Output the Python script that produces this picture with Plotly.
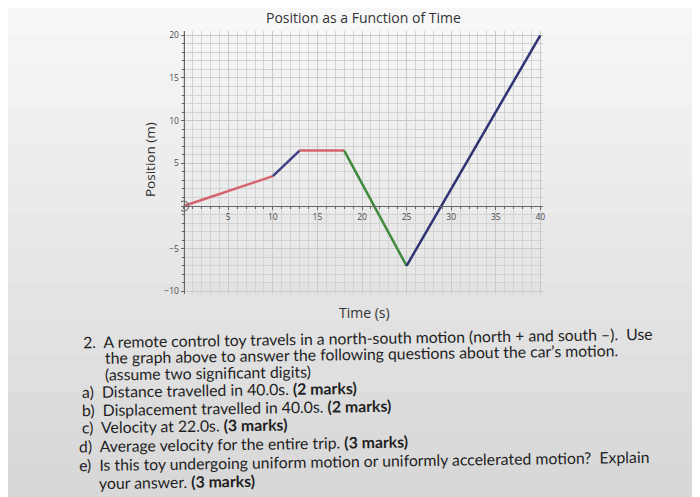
import plotly.graph_objects as go

# ---- data ----
times = [0, 10, 13, 18, 25, 40]
positions = [0, 3.5, 6.5, 6.5, -7, 20]
segment_colors = ["#d4636f", "#3d4284", "#d4636f", "#3f8a3c", "#2f3373"]
x_tick_vals = [5, 10, 15, 20, 25, 30, 35, 40]
y_tick_vals = [-10, -5, 5, 10, 15, 20]

title_text = "Position as a Function of Time"
x_title = "Time (s)"
y_title = "Position (m)"
question_lines = [
    "2.  A remote control toy travels in a north-south motion (north + and south \u2013).  Use",
    "the graph above to answer the following questions about the car\u2019s motion.",
    "(assume two significant digits)",
    "a)  Distance travelled in 40.0s. <b>(2 marks)</b>",
    "b)  Displacement travelled in 40.0s. <b>(2 marks)</b>",
    "c)  Velocity at 22.0s. <b>(3 marks)</b>",
    "d)  Average velocity for the entire trip. <b>(3 marks)</b>",
    "e)  Is this toy undergoing uniform motion or uniformly accelerated motion?  Explain",
    "your answer. <b>(3 marks)</b>",
]

W, H = 700, 497
OFF = 8  # page body offset
ml, mr, mt, mb = 181 - OFF, 157 + OFF, 31 - OFF, 203 + OFF
xr = [-0.3, 40.3]
yr = [-10.3, 20.5]

fig = go.Figure()
for i in range(len(times) - 1):
    fig.add_trace(go.Scatter(
        x=times[i:i + 2], y=positions[i:i + 2], mode="lines",
        line=dict(color=segment_colors[i], width=2.5), showlegend=False,
        hoverinfo="skip"))
fig.add_trace(go.Scatter(
    x=[times[0]], y=[positions[0]], mode="markers",
    marker=dict(symbol="circle-open", size=10, color="#777777",
                line=dict(width=1.3)), showlegend=False))

axis_font = dict(family="Open Sans, sans-serif", size=8.5, color="#4a4a4a")
common = dict(tickfont=axis_font, showgrid=True, gridcolor="#c9c9c9", gridwidth=1,
              zeroline=False, showline=True, linecolor="#666666",
              linewidth=1.2, ticks="outside", ticklen=3, tickcolor="#666666",
              automargin=False,
              minor=dict(dtick=1, showgrid=True, gridcolor="#d2d2d2",
                         ticks="outside", ticklen=2, tickcolor="#666666"))
fig.update_layout(
    width=W, height=H,
    margin=dict(l=ml, r=mr, t=mt, b=mb, autoexpand=False),
    paper_bgcolor="#ebebeb", plot_bgcolor="#f3f3f3",
    xaxis=dict(range=xr, tickvals=x_tick_vals, anchor="free",
               position=(0 - yr[0]) / (yr[1] - yr[0]), **common),
    yaxis=dict(range=yr, tickvals=y_tick_vals, anchor="free",
               position=(0 - xr[0]) / (xr[1] - xr[0]), **common),
)

def px_x(p):
    return (p - OFF - ml) / (W - ml - mr)

def px_y(p):
    return (H - mb - (p - OFF)) / (H - mt - mb)

# gentle photographic shading (lighter at top, darker at bottom)
n = 14
for k in range(n):
    g = int(247 - k * (247 - 216) / (n - 1))
    y_top = px_y(k * H / n) if k else 3
    y_bot = px_y((k + 1) * H / n) if k < n - 1 else -3
    fig.add_shape(type="rect", xref="paper", yref="paper",
                  x0=-2, x1=3, y0=y_bot, y1=y_top,
                  fillcolor=f"rgb({g},{g},{g})", line=dict(width=0), layer="below")

fig.add_annotation(text=title_text, xref="paper", yref="paper",
                   x=px_x(363), y=px_y(18), showarrow=False,
                   xanchor="center", yanchor="middle",
                   font=dict(family="Open Sans, sans-serif", size=14, color="#333333"))
fig.add_annotation(text=y_title, xref="paper", yref="paper",
                   x=px_x(150), y=px_y(160), showarrow=False, textangle=-90,
                   xanchor="center", yanchor="middle",
                   font=dict(family="Open Sans, sans-serif", size=13.5, color="#2e2e2e"))
fig.add_annotation(text=x_title, xref="paper", yref="paper",
                   x=px_x(364), y=px_y(312), showarrow=False,
                   xanchor="center", yanchor="middle",
                   font=dict(family="Open Sans, sans-serif", size=14, color="#333333"))

line_y = [337, 353.5, 372.5, 389.5, 407, 426, 443.5, 460.5, 481]
line_x = [81, 103, 103, 80, 80, 80, 77, 77, 97]
for t, yy, xx in zip(question_lines, line_y, line_x):
    fig.add_annotation(text=t, xref="paper", yref="paper",
                       x=px_x(xx), y=px_y(yy), xanchor="left", yanchor="middle",
                       showarrow=False, textangle=-0.85,
                       font=dict(family="Lato, Roboto, sans-serif",
                                 size=15.8, color="#1f1f1f"))

fig.write_html("out.html")
